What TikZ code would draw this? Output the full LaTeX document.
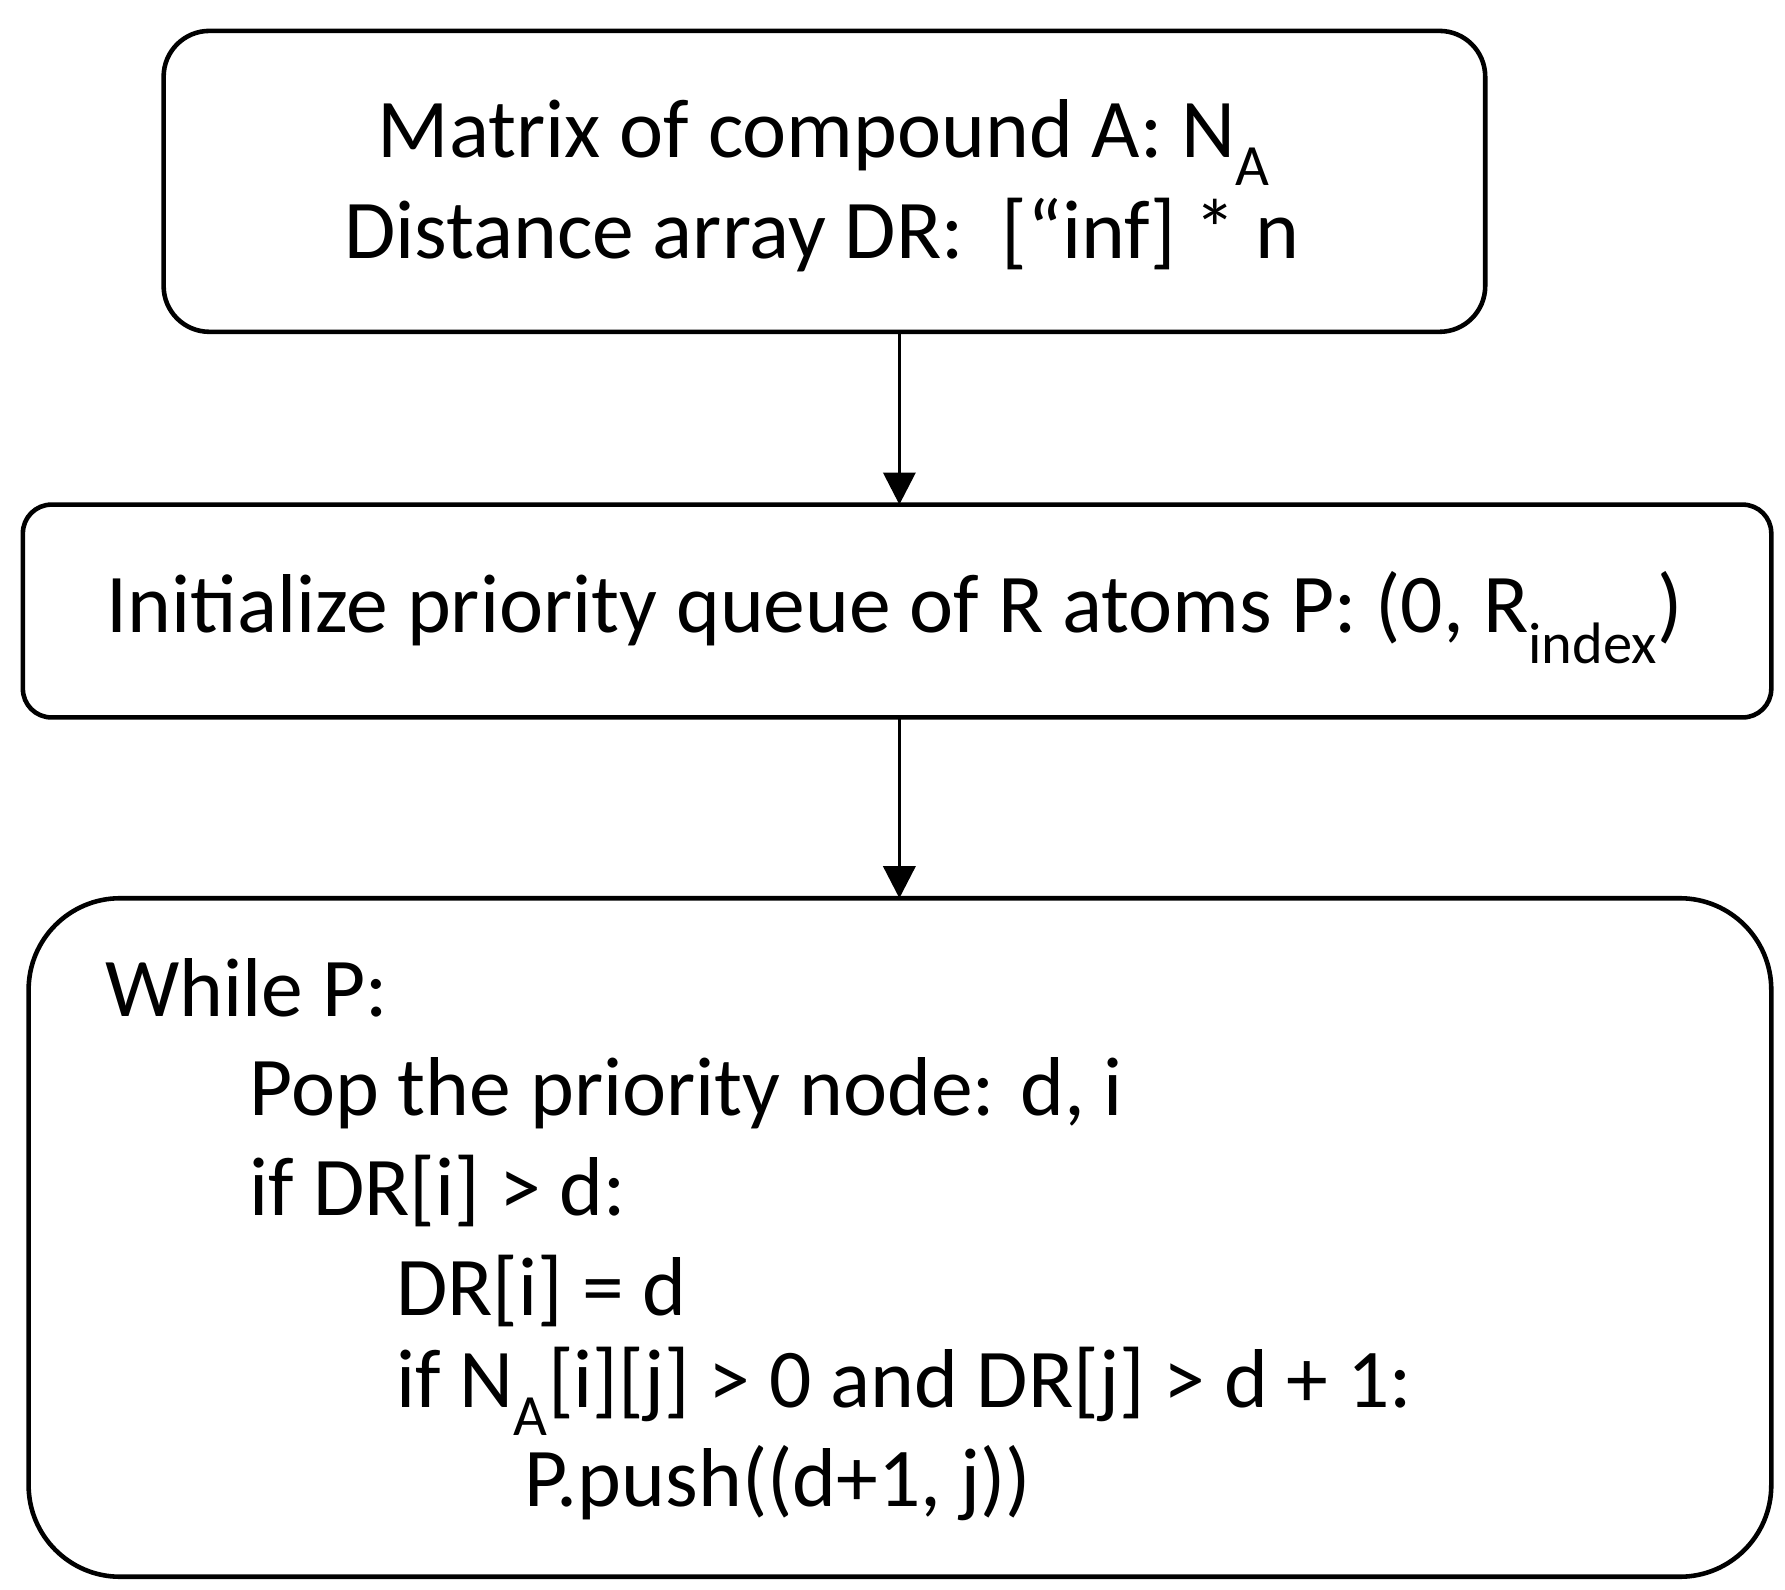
\documentclass[tikz,border=0pt]{standalone}
\usepackage{fontspec}
\setmainfont{Carlito}
\usetikzlibrary{arrows.meta}
\begin{document}
\begin{tikzpicture}[x=1pt,y=-1pt,
  box/.style={draw,line width=4pt},
  txt/.style={inner sep=0pt,anchor=base west,font=\fontsize{73}{88}\selectfont},
  arr/.style={line width=3pt,-{Triangle[length=28pt,width=28pt]}}]
\useasboundingbox (0,0) rectangle (1560,1389);
\draw[box,rounded corners=40pt] (143,27) rectangle (1298,290);
\draw[box,rounded corners=25pt] (20,441) rectangle (1548,627);
\draw[box,rounded corners=80pt] (25,785) rectangle (1548,1378);
\node[txt,anchor=base] (t1) at (720,138) {Matrix of compound A: N\textsubscript{A}};
\node[txt,anchor=base] (t2) at (718,226) {Distance array DR:\ \ [“inf] * n};
\node[txt,anchor=base] (t3) at (782,553) {Initialize priority queue of R atoms P: (0, R\textsubscript{index})};
\node[txt] (w1) at (92,888) {While P:};
\node[txt] (w2) at (218,975) {Pop the priority node: d, i};
\node[txt] (w3) at (218,1062) {if DR[i] > d:};
\node[txt] (w4) at (346,1150) {DR[i] = d};
\node[txt] (w5) at (346,1230) {if N\textsubscript{A}[i][j] > 0 and DR[j] > d + 1:};
\node[txt] (w6) at (458,1317) {P.push((d+1, j))};
\coordinate (a1) at (786,290); \coordinate (b1) at (786,441);
\coordinate (a2) at (786,627); \coordinate (b2) at (786,785);
\draw[arr] (a1) -- (b1);
\draw[arr] (a2) -- (b2);
\end{tikzpicture}
\end{document}
